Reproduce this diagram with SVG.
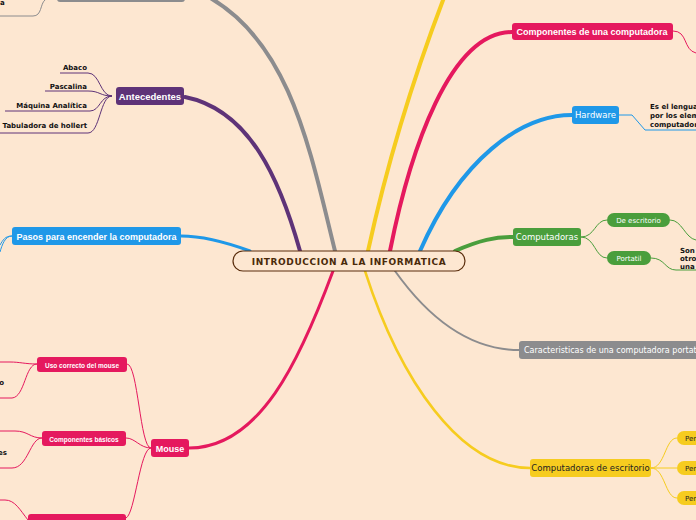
<svg xmlns="http://www.w3.org/2000/svg" width="696" height="520" viewBox="0 0 696 520">
<style>
text{font-family:"DejaVu Sans",Verdana,sans-serif}
.n{fill:#fff;font-size:8.5px}
.b{font-weight:bold;font-family:"Liberation Sans",Arial,sans-serif}
.s{font-size:7px;font-weight:bold;fill:#111}
.t{fill:none;stroke-linecap:round}
.l{fill:none;stroke-width:1}
</style>
<rect width="696" height="520" fill="#fde7d1"/>
<g id="connectors">
<path class="t" d="M300,251 C280,180 250,110 185,97" stroke="#5e3378" stroke-width="4"/>
<path class="t" d="M335,251 C310,150 290,40 205,-5" stroke="#8c8c8e" stroke-width="4"/>
<path class="t" d="M368,251 C390,150 420,60 445,-5" stroke="#f6cc1f" stroke-width="4"/>
<path class="t" d="M390,251 C410,150 450,32 512,32" stroke="#e5195e" stroke-width="4"/>
<path class="t" d="M420,251 C460,160 520,115 572,115" stroke="#1f98e8" stroke-width="4"/>
<path class="t" d="M455,251 C480,240 495,237 513,237" stroke="#4a9e3c" stroke-width="4"/>
<path class="t" d="M395,271 C430,320 470,350 519,350" stroke="#8c8c8e" stroke-width="2"/>
<path class="t" d="M365,271 C400,380 460,468 530,468" stroke="#f6cc1f" stroke-width="2.5"/>
<path class="t" d="M333,271 C300,360 260,448 189,448" stroke="#e5195e" stroke-width="3"/>
<path class="t" d="M250,251 C220,240 200,236 181,236" stroke="#1f98e8" stroke-width="3"/>
<g stroke="#5e3378" class="l">
<path d="M60,73 H88 C100,73 100,96 112,96"/>
<path d="M45,91 H88 C100,91 100,96 112,96"/>
<path d="M5,111 H90 C100,111 100,96 112,96"/>
<path d="M0,133 H88 C100,133 100,96 112,96"/>
</g>
<path class="l" stroke="#8c8c8e" d="M0,16 H33 C42,16 40,4 45,0"/>
<path class="l" stroke="#1f98e8" d="M619,115 H632 L645,130 H696"/>
<path class="l" stroke="#e5195e" d="M673,31 C688,31 683,50 696,53"/>
<g stroke="#4a9e3c" class="l">
<path d="M581,237 C595,237 595,220 607,220"/>
<path d="M581,237 C595,237 595,258 607,258"/>
<path d="M670,220 C682,220 685,238 696,240"/>
<path d="M651,258 C665,258 665,270 676,270 H696"/>
</g>
<g stroke="#f6cc1f" class="l">
<path d="M651,468 C665,468 665,438 677,438"/>
<path d="M651,468 H677"/>
<path d="M651,468 C665,468 665,498 677,498"/>
</g>
<g stroke="#e5195e" class="l">
<path d="M151,448 C140,448 138,364 127,364"/>
<path d="M151,448 C140,448 135,438 126,438"/>
<path d="M151,448 C140,448 135,514 126,518"/>
<path d="M37,364 C25,364 25,397 12,398 H0"/>
<path d="M37,364 C25,364 20,362 10,362 H0"/>
<path d="M42,438 C30,438 28,468 12,468 H0"/>
<path d="M42,438 C30,438 28,431 15,431 H0"/>
<path d="M28,520 C20,510 15,500 5,500 H0"/>
</g>
<path class="l" stroke="#1f98e8" d="M12,236 C5,236 3,240 0,245 M12,236 C5,236 2,245 0,252"/>
</g>
<g id="center"><rect x="233" y="251" width="232" height="20" rx="10" fill="#fde7d1" stroke="#5a2d0c" stroke-width="1.2"/><text x="349" y="264.5" text-anchor="middle" font-size="9" font-weight="bold" fill="#4a2a0a" letter-spacing="0.6">INTRODUCCION A LA INFORMATICA</text></g>
<g id="topgray"><rect x="57" y="-15" width="128" height="17" rx="3" fill="#8c8c8e"/></g>
<g id="antecedentes"><rect x="116" y="87" width="68" height="18" rx="3" fill="#5e3378"/><text class="n b" x="150" y="99.5" text-anchor="middle" style="font-size:9.5px">Antecedentes</text></g>
<g id="abaco"><text class="s" x="87" y="70" text-anchor="end">Abaco</text></g>
<g id="pascalina"><text class="s" x="87" y="89" text-anchor="end">Pascalina</text></g>
<g id="maquina"><text class="s" x="87" y="108" text-anchor="end">Máquina Analítica</text></g>
<g id="tabuladora"><text class="s" x="87" y="128" text-anchor="end">Tabuladora de hollert</text></g>
<g id="topleft"><text class="s" x="0" y="5">a</text></g>
<g id="componentes"><rect x="512" y="23" width="161" height="17" rx="3" fill="#e5195e"/><text class="n b" x="592" y="34.5" text-anchor="middle" style="font-size:9px">Componentes de una computadora</text></g>
<g id="hardware"><rect x="572" y="106" width="47" height="18" rx="3" fill="#1f98e8"/><text class="n" x="595.5" y="118" text-anchor="middle">Hardware</text></g>
<g id="hwtext"><text class="s" x="650" y="109">Es el lengua</text><text class="s" x="650" y="118">por los elem</text><text class="s" x="650" y="127">computador</text></g>
<g id="computadoras"><rect x="513" y="228" width="68" height="18" rx="3" fill="#4a9e3c"/><text class="n" x="547" y="240" text-anchor="middle">Computadoras</text></g>
<g id="deescritorio"><rect x="607" y="213" width="63" height="14" rx="7" fill="#4a9e3c"/><text class="n" x="638.5" y="223" text-anchor="middle" style="font-size:7px">De escritorio</text></g>
<g id="portatil"><rect x="607" y="251" width="44" height="14" rx="7" fill="#4a9e3c"/><text class="n" x="629" y="261" text-anchor="middle" style="font-size:7px">Portatil</text></g>
<g id="portext"><text class="s" x="680" y="253">Son</text><text class="s" x="680" y="261">otro</text><text class="s" x="680" y="269">una</text></g>
<g id="caracteristicas"><rect x="519" y="341" width="190" height="18" rx="3" fill="#8c8c8e"/><text class="n" x="524" y="353" style="font-size:8px">Caracteristicas de una computadora portat</text></g>
<g id="compescritorio"><rect x="530" y="459" width="121" height="18" rx="3" fill="#f6cc1f"/><text x="590.5" y="471" text-anchor="middle" font-size="8.5" fill="#222">Computadoras de escritorio</text></g>
<g id="per1"><rect x="677" y="431" width="40" height="14" rx="7" fill="#f6cc1f"/><text x="685" y="441" font-size="7" fill="#222">Per</text></g>
<g id="per2"><rect x="677" y="461" width="40" height="14" rx="7" fill="#f6cc1f"/><text x="685" y="471" font-size="7" fill="#222">Per</text></g>
<g id="per3"><rect x="677" y="491" width="40" height="14" rx="7" fill="#f6cc1f"/><text x="685" y="501" font-size="7" fill="#222">Per</text></g>
<g id="mouse"><rect x="151" y="439" width="38" height="18" rx="3" fill="#e5195e"/><text class="n b" x="170" y="451.5" text-anchor="middle" style="font-size:9px">Mouse</text></g>
<g id="uso"><rect x="37" y="357" width="90" height="15" rx="3" fill="#e5195e"/><text class="n b" x="82" y="367.5" text-anchor="middle" style="font-size:6.5px">Uso correcto del mouse</text></g>
<g id="compbasicos"><rect x="42" y="431" width="84" height="15" rx="3" fill="#e5195e"/><text class="n b" x="84" y="441.5" text-anchor="middle" style="font-size:6.5px">Componentes básicos</text></g>
<g id="mousebottom"><rect x="28" y="514" width="98" height="15" rx="3" fill="#e5195e"/></g>
<g id="lefttexts"><text class="s" x="4" y="385" text-anchor="end">o</text><text class="s" x="7" y="455" text-anchor="end">es</text></g>
<g id="pasos"><rect x="12" y="227" width="169" height="18" rx="3" fill="#1f98e8"/><text class="n b" x="96.5" y="239.5" text-anchor="middle" style="font-size:9px">Pasos para encender la computadora</text></g>
</svg>
